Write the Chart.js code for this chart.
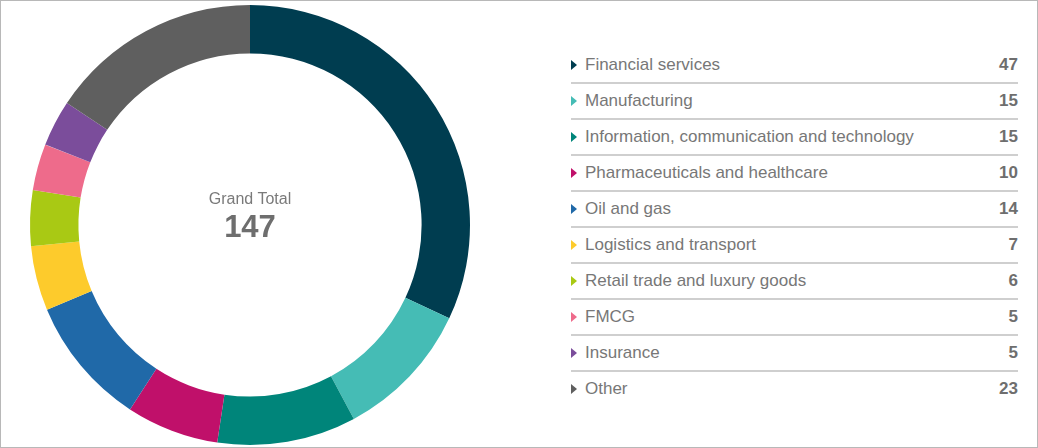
<!DOCTYPE html>
<html>
<head>
<meta charset="utf-8">
<script src="https://cdn.jsdelivr.net/npm/chart.js@4"></script>
<style>
  body { margin: 0; background: #fff; font-family: "Liberation Sans", Arial, sans-serif; }
  .frame { position: absolute; left: 0; top: 0; width: 1036px; height: 446px; border: 1px solid #b8b8b8; }
  #wrap { position: absolute; left: 28px; top: 3px; width: 444px; height: 444px; }
  .center { position: absolute; left: 150px; top: 190px; width: 200px; text-align: center; color: #7a7a7a; }
  .center .t { font-size: 16px; }
  .center .n { font-size: 31px; font-weight: bold; color: #6e6e6e; margin-top: 1px; }
  #legend { position: absolute; left: 571px; top: 48px; width: 447px; }
  .row { height: 34px; border-bottom: 2px solid #cfcfcf; display: flex; align-items: center; font-size: 17px; color: #777; position: relative; top: 0; }
  .row:last-child { border-bottom: none; }
  .row .tri { width: 0; height: 0; border-top: 5px solid transparent; border-bottom: 5px solid transparent; border-left: 6px solid; margin-right: 8px; }
  .row .lbl { flex: 1; }
  .row .v { font-weight: bold; color: #6e6e6e; }
</style>
</head>
<body>
<div class="frame"></div>
<div id="wrap"><canvas id="donut" width="444" height="444"></canvas></div>
<div class="center"><div class="t">Grand Total</div><div class="n" id="total"></div></div>
<div id="legend"></div>
<script>
const categories = ['Financial services', 'Manufacturing', 'Information, communication and technology',
  'Pharmaceuticals and healthcare', 'Oil and gas', 'Logistics and transport',
  'Retail trade and luxury goods', 'FMCG', 'Insurance', 'Other'];
const counts = [47, 15, 15, 10, 14, 7, 6, 5, 5, 23];
const colors = ['#003d50', '#45bcb5', '#00857a', '#c0106a', '#2069a8', '#fdcb2c', '#a9c914', '#ee6b8b', '#7b4d9b', '#5f5f5f'];

const total = counts.reduce((a, b) => a + b, 0);
document.getElementById('total').textContent = total;

const legend = document.getElementById('legend');
categories.forEach((c, i) => {
  const row = document.createElement('div');
  row.className = 'row';
  row.innerHTML = '<span class="tri" style="border-left-color:' + colors[i] + '"></span>' +
    '<span class="lbl">' + c + '</span><span class="v">' + counts[i] + '</span>';
  legend.appendChild(row);
});

new Chart(document.getElementById('donut').getContext('2d'), {
  type: 'doughnut',
  data: {
    labels: categories,
    datasets: [{ data: counts, backgroundColor: colors, borderWidth: 0 }]
  },
  options: {
    responsive: false,
    animation: false,
    cutout: '78%',
    layout: { padding: 2 },
    plugins: { legend: { display: false }, tooltip: { enabled: false } }
  }
});
</script>
</body>
</html>
